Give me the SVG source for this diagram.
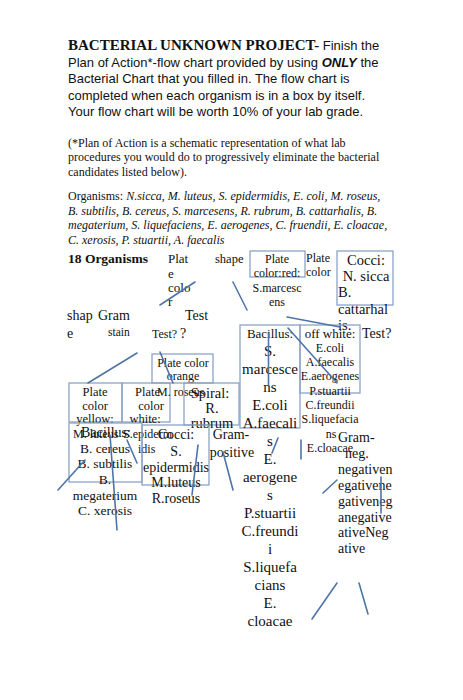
<svg xmlns="http://www.w3.org/2000/svg" width="463" height="700" viewBox="0 0 463 700">
<style>
.bg{fill:#ffffff}
.h{font-family:"Liberation Sans",Arial,sans-serif;font-size:13px;fill:#111}
.tb{font-family:"Liberation Serif","Times New Roman",serif;font-weight:bold}
.t{font-family:"Liberation Serif","Times New Roman",serif;fill:#111}
.i{font-style:italic}
.box{fill:none;stroke:#8ea4c6;stroke-width:1.3}
.ln{stroke:#4f74a8;stroke-width:1.6;fill:none;stroke-linecap:round}
.m{text-anchor:middle}
</style>
<rect class="bg" x="0" y="0" width="463" height="700"/>
<g id="intro">
<text class="h" x="68" y="50"><tspan class="tb" font-size="15">BACTERIAL UNKNOWN PROJECT-</tspan> Finish the</text>
<text class="h" x="68" y="66.5">Plan of Action*-flow chart provided by using <tspan font-weight="bold" font-style="italic">ONLY</tspan> the</text>
<text class="h" x="68" y="83">Bacterial Chart that you filled in. The flow chart is</text>
<text class="h" x="68" y="99.5">completed when each organism is in a box by itself.</text>
<text class="h" x="68" y="116">Your flow chart will be worth 10% of your lab grade.</text>
<text class="t" font-size="12" x="68" y="146.5">(*Plan of Action is a schematic representation of what lab</text>
<text class="t" font-size="12" x="68" y="161">procedures you would do to progressively eliminate the bacterial</text>
<text class="t" font-size="12" x="68" y="175.5">candidates listed below).</text>
<text class="t" font-size="12" x="68" y="200">Organisms: <tspan class="i">N.sicca, M. luteus, S. epidermidis, E. coli, M. roseus,</tspan></text>
<text class="t i" font-size="12" x="68" y="214.5">B. subtilis, B. cereus, S. marcesens, R. rubrum, B. cattarhalis, B.</text>
<text class="t i" font-size="12" x="68" y="229">megaterium, S. liquefaciens, E. aerogenes, C. fruendii, E. cloacae,</text>
<text class="t i" font-size="12" x="68" y="243.5">C. xerosis, P. stuartii, A. faecalis</text>
</g>
<g id="root">
<text class="t" font-weight="bold" font-size="13.5" x="68" y="263">18 Organisms</text>
</g>
<g id="labels-top" class="t" font-size="13">
<text x="168" y="263">Plat</text>
<text x="168" y="278">e</text>
<text x="168" y="292">colo</text>
<text x="168" y="306">r</text>
<text x="215" y="263" font-size="12.5">shape</text>
<text x="306" y="262" font-size="12">Plate</text>
<text x="306" y="276" font-size="12">color</text>
</g>
<g id="labels-mid" class="t">
<text x="67" y="320" font-size="14">shap</text>
<text x="67" y="338" font-size="14">e</text>
<text x="98" y="320" font-size="14">Gram</text>
<text x="108" y="336" font-size="11.5">stain</text>
<text x="185" y="320" font-size="14">Test</text>
<text x="180" y="338" font-size="14">?</text>
<text x="152" y="338" font-size="12">Test?</text>
<text x="362" y="338" font-size="14">Test?</text>
</g>
<g id="node-red">
<rect class="box" x="250" y="251" width="55" height="26"/>
<g class="t m" font-size="12">
<text x="277" y="263">Plate</text>
<text x="277" y="277">color:red:</text>
<text x="277" y="292">S.marcesc</text>
<text x="277" y="306">ens</text>
</g>
</g>
<g id="node-cocci-top">
<rect class="box" x="337" y="251" width="56" height="54"/>
<g class="t" font-size="14.5">
<text class="m" x="366" y="265">Cocci:</text>
<text class="m" x="366" y="281">N. sicca</text>
<text x="338" y="297">B.</text>
<text x="338" y="314">cattarhal</text>
<text x="338" y="330">is.</text>
</g>
</g>
<g id="node-bacillus-main">
<rect class="box" x="240" y="325" width="60" height="103"/>
<g class="t m">
<text x="270" y="338" font-size="13">Bacillus:</text>
<g font-size="15">
<text x="270" y="356">S.</text>
<text x="270" y="374">marcesce</text>
<text x="270" y="392">ns</text>
<text x="270" y="410">E.coli</text>
<text x="270" y="428">A.faecali</text>
<text x="270" y="446">s</text>
<text x="270" y="464">E.</text>
<text x="270" y="482">aerogene</text>
<text x="270" y="500">s</text>
<text x="270" y="518">P.stuartii</text>
<text x="270" y="536">C.freundi</text>
<text x="270" y="554">i</text>
<text x="270" y="572">S.liquefa</text>
<text x="270" y="590">cians</text>
<text x="270" y="608">E.</text>
<text x="270" y="626">cloacae</text>
</g>
</g>
</g>
<g id="node-offwhite">
<rect class="box" x="300" y="325" width="60" height="68"/>
<g class="t m" font-size="12">
<text x="330" y="338" font-size="13">off white:</text>
<text x="330" y="351.5">E.coli</text>
<text x="330" y="366">A.faecalis</text>
<text x="330" y="380">E.aerogenes</text>
<text x="330" y="394.5">P.stuartii</text>
<text x="330" y="409">C.freundii</text>
<text x="330" y="423">S.liquefacia</text>
<text x="331" y="437.5">ns</text>
<text x="330" y="452">E.cloacae</text>
</g>
</g>
<g id="node-gramneg" class="t" font-size="14">
<text x="338" y="442">Gram-</text>
<text x="345" y="458">neg.</text>
<text x="338" y="474">negativen</text>
<text x="338" y="490">egativene</text>
<text x="338" y="506">gativeneg</text>
<text x="338" y="521.5">anegative</text>
<text x="338" y="537">ativeNeg</text>
<text x="338" y="553">ative</text>
</g>
<g id="node-orange">
<rect class="box" x="152" y="354" width="61" height="29"/>
<g class="t m" font-size="12">
<text x="183" y="367">Plate color</text>
<text x="183" y="380">orange</text>
</g>
</g>
<g id="node-yellow">
<rect class="box" x="69" y="383" width="53" height="39"/>
<g class="t m" font-size="12.5">
<text x="95" y="396">Plate</text>
<text x="95" y="409.5">color</text>
<text x="95" y="423">yellow:</text>
</g>
</g>
<g id="node-white">
<rect class="box" x="122" y="383" width="48" height="39"/>
<g class="t" font-size="12.5">
<text x="135" y="396">Plate</text>
<text x="157" y="396" font-size="12">M. roseus</text>
<text class="m" x="151" y="409.5">color</text>
<text class="m" x="145" y="423">white:</text>
</g>
</g>
<g id="node-spiral">
<rect class="box" x="184" y="383" width="55" height="42"/>
<g class="t m" font-size="14.5">
<text x="210" y="398">Spiral:</text>
<text x="212" y="413">R.</text>
<text x="212" y="428">rubrum</text>
</g>
</g>
<g id="node-bacillus-left">
<rect class="box" x="69" y="423" width="73" height="59"/>
<g class="t">
<text x="73" y="438" font-size="12">M. luteus</text>
<text x="123" y="438" font-size="12">S.epiderm</text>
<text x="138" y="453" font-size="12">idis</text>
<text class="m" x="106" y="437" font-size="14">Bacillus:</text>
<g class="m" font-size="13.5">
<text x="105" y="453">B. cereus</text>
<text x="105" y="468">B. subtilis</text>
<text x="105" y="484">B.</text>
<text x="105" y="500">megaterium</text>
<text x="105" y="515">C. xerosis</text>
</g>
</g>
</g>
<g id="node-cocci-left">
<rect class="box" x="142" y="425" width="67" height="60"/>
<g class="t m" font-size="14">
<text x="176" y="439">Cocci:</text>
<text x="176" y="456">S.</text>
<text x="176" y="472">epidermidis</text>
<text x="176" y="487">M.luteus</text>
<text x="176" y="503">R.roseus</text>
</g>
</g>
<g id="node-grampos" class="t m" font-size="14">
<text x="231" y="439">Gram-</text>
<text x="232" y="457">positive</text>
</g>
<g id="connectors">
<line class="ln" x1="195" y1="282" x2="160" y2="305"/>
<line class="ln" x1="233" y1="282" x2="247" y2="310"/>
<line class="ln" x1="287" y1="317" x2="340" y2="327"/>
<line class="ln" x1="268.5" y1="333" x2="268.5" y2="385"/>
<line class="ln" x1="288" y1="328" x2="337" y2="383"/>
<line class="ln" x1="137" y1="353" x2="88" y2="383"/>
<line class="ln" x1="160" y1="352" x2="173" y2="383"/>
<line class="ln" x1="110" y1="435" x2="117" y2="530"/>
<line class="ln" x1="85" y1="460" x2="58" y2="490"/>
<line class="ln" x1="127" y1="440" x2="137" y2="463"/>
<line class="ln" x1="198" y1="445" x2="192" y2="495"/>
<line class="ln" x1="223" y1="452" x2="233" y2="490"/>
<line class="ln" x1="278" y1="438" x2="272" y2="453"/>
<line class="ln" x1="301" y1="440" x2="301" y2="459"/>
<line class="ln" x1="337" y1="480" x2="323" y2="493"/>
<line class="ln" x1="381" y1="477" x2="381" y2="513"/>
<line class="ln" x1="337" y1="583" x2="312" y2="619"/>
<line class="ln" x1="359" y1="583" x2="368" y2="614"/>
</g>
</svg>
